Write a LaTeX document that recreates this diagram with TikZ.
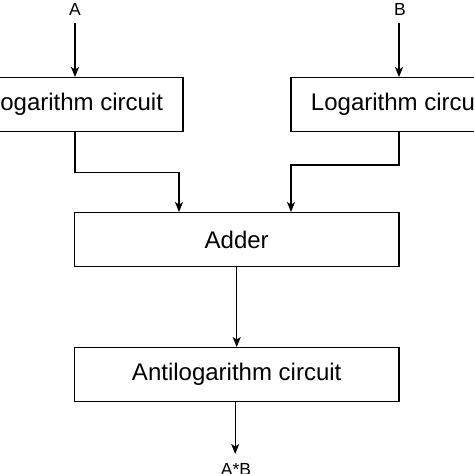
\documentclass[tikz,border=0pt]{standalone}
\usepackage{fontspec}
\setmainfont{Liberation Sans}
\usetikzlibrary{arrows.meta,calc}
\begin{document}
\begin{tikzpicture}[x=1pt,y=-1pt,
  blk/.style={draw,line width=1.3pt,inner sep=0pt,minimum height=54pt,font=\fontsize{24}{28}\selectfont},
  lbl/.style={inner sep=0pt,anchor=base,font=\fontsize{17.5}{20}\selectfont},
  arr/.style={line width=1.3pt,-{Stealth[length=10pt,width=8pt,inset=2.5pt]}}]
\clip (0,0) rectangle (474,474);
\fill[white] (0,0) rectangle (474,474);
\node[blk,minimum width=216pt] (log1) at (75,104.7) {Logarithm circuit};
\node[blk,minimum width=216pt] (log2) at (399,104.7) {Logarithm circuit};
\node[blk,minimum width=324.7pt] (adder) at (236.7,239.7) {Adder};
\node[blk,minimum width=324.7pt] (anti) at (236.7,374.7) {Antilogarithm circuit};
\node[lbl] (A) at (75,15) {A};
\node[lbl] (B) at (400,15) {B};
\node[lbl] (AB) at (236,475) {A*B};
\coordinate (j1) at (179,172.7);
\coordinate (j2) at (291,165);
\draw[arr] ([yshift=-8pt]A.base) -- (log1.north);
\draw[arr] ([yshift=-8pt]B.base -| log2.north) -- (log2.north);
\draw[arr] (log1.south) |- (j1) -- (j1 |- adder.north);
\draw[arr] (log2.south) |- (j2) -- (j2 |- adder.north);
\draw[arr] (adder.south) -- (anti.north);
\draw[arr] ([xshift=-1.5pt]anti.south) -- ([xshift=-1.5pt,yshift=21pt]AB.base -| anti.south);
\end{tikzpicture}
\end{document}
